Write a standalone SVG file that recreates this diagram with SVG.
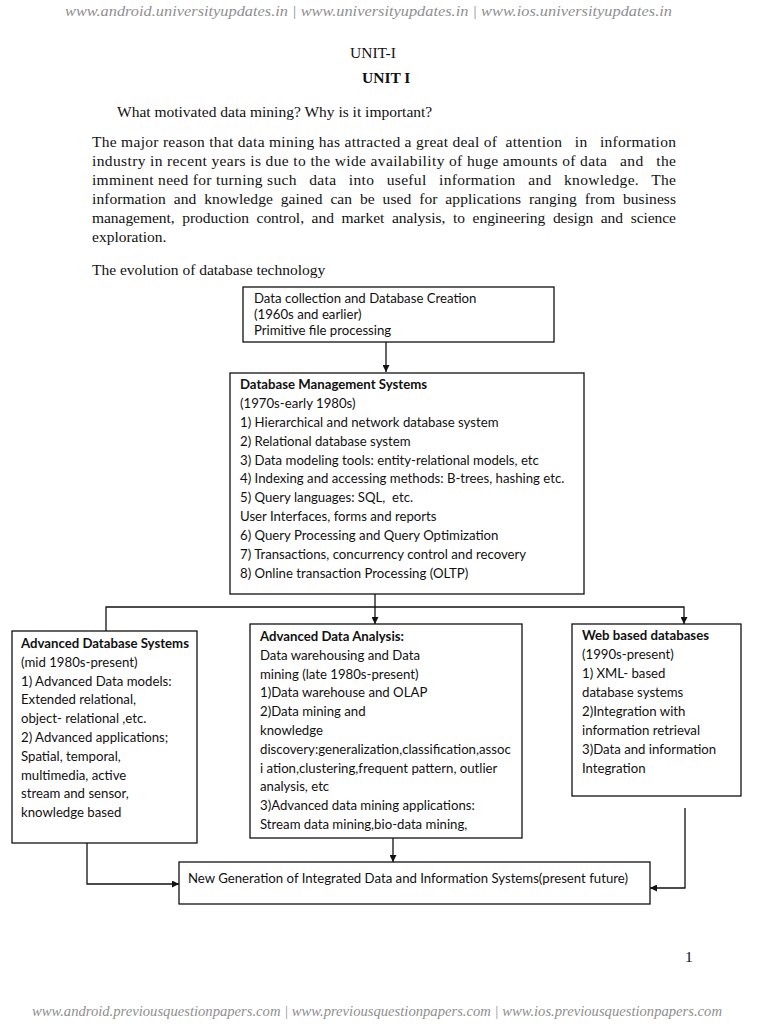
<svg xmlns="http://www.w3.org/2000/svg" width="768" height="1024" viewBox="0 0 768 1024">
<style>
.hdr{font-family:"Liberation Serif",serif;font-style:italic;font-size:14px;fill:#8f8f8f}
.ser{font-family:"Liberation Serif",serif;font-size:15.5px;fill:#111}
.pre{white-space:pre}
.box{fill:#fff;stroke:#111;stroke-width:1.3}
.t{font-family:Lato,"Open Sans",sans-serif;font-size:13.2px;fill:#111}
.b{font-weight:bold}
.con{fill:none;stroke:#111;stroke-width:1.3}
</style>
<defs>
<marker id="ah" viewBox="0 0 10 10" refX="10" refY="5" markerWidth="7" markerHeight="7" markerUnits="userSpaceOnUse" orient="auto">
<path d="M0,0 L10,5 L0,10 z" fill="#111"/>
</marker>
</defs>
<rect width="768" height="1024" fill="#fff"/>

<text class="hdr" x="65" y="16" textLength="607" lengthAdjust="spacingAndGlyphs">www.android.universityupdates.in | www.universityupdates.in | www.ios.universityupdates.in</text>
<text class="hdr" x="32" y="1016" textLength="690" lengthAdjust="spacingAndGlyphs">www.android.previousquestionpapers.com | www.previousquestionpapers.com | www.ios.previousquestionpapers.com</text>

<text class="ser" x="350" y="58">UNIT-I</text>
<text class="ser b" x="362" y="83">UNIT I</text>
<text class="ser" x="117" y="117">What motivated data mining? Why is it important?</text>
<text class="ser pre" x="92" y="147" textLength="584">The major reason that data mining has attracted a great deal of  attention   in   information</text>
<text class="ser pre" x="92" y="166" textLength="584">industry in recent years is due to the wide availability of huge amounts of data   and   the</text>
<text class="ser pre" x="92" y="185" textLength="584">imminent need for turning such   data   into   useful   information   and   knowledge.   The</text>
<text class="ser pre" x="92" y="204" textLength="584">information  and  knowledge  gained  can  be  used  for  applications  ranging  from  business</text>
<text class="ser pre" x="92" y="223" textLength="584">management,  production  control,  and  market  analysis,  to  engineering  design  and  science</text>
<text class="ser" x="92" y="242">exploration.</text>
<text class="ser" x="92" y="275">The evolution of database technology</text>
<text class="ser" x="685" y="962">1</text>

<g id="connectors">
<line class="con" x1="386" y1="342" x2="386" y2="372" marker-end="url(#ah)"/>
<line class="con" x1="375" y1="594" x2="375" y2="624" marker-end="url(#ah)"/>
<polyline class="con" points="106,631 106,607 684,607 684,624" marker-end="url(#ah)"/>
<polyline class="con" points="87,843 87,884 179,884" marker-end="url(#ah)"/>
<line class="con" x1="393" y1="838" x2="393" y2="862" marker-end="url(#ah)"/>
<polyline class="con" points="685,808 685,888 650,888" marker-end="url(#ah)"/>
</g>

<g id="node-collection">
<rect class="box" x="243" y="287" width="311" height="55"/>
<text class="t" x="254" y="303">Data collection and Database Creation</text>
<text class="t" x="254" y="319">(1960s and earlier)</text>
<text class="t" x="254" y="335">Primitive file processing</text>
</g>

<g id="node-dbms">
<rect class="box" x="230" y="373" width="354" height="221"/>
<text class="t b" x="240" y="389">Database Management Systems</text>
<text class="t" x="240" y="408">(1970s-early 1980s)</text>
<text class="t" x="240" y="427">1) Hierarchical and network database system</text>
<text class="t" x="240" y="446">2) Relational database system</text>
<text class="t" x="240" y="465">3) Data modeling tools: entity-relational models, etc</text>
<text class="t" x="240" y="483">4) Indexing and accessing methods: B-trees, hashing etc.</text>
<text class="t pre" x="240" y="502">5) Query languages: SQL,  etc.</text>
<text class="t" x="240" y="521">User Interfaces, forms and reports</text>
<text class="t" x="240" y="540">6) Query Processing and Query Optimization</text>
<text class="t" x="240" y="559">7) Transactions, concurrency control and recovery</text>
<text class="t" x="240" y="578">8) Online transaction Processing (OLTP)</text>
</g>

<g id="node-advdb">
<rect class="box" x="12" y="631" width="185" height="212"/>
<text class="t b" x="21" y="648">Advanced Database Systems</text>
<text class="t" x="21" y="667">(mid 1980s-present)</text>
<text class="t" x="21" y="686">1) Advanced Data models:</text>
<text class="t" x="21" y="704">Extended relational,</text>
<text class="t" x="21" y="723">object- relational ,etc.</text>
<text class="t" x="21" y="742">2) Advanced applications;</text>
<text class="t" x="21" y="761">Spatial, temporal,</text>
<text class="t" x="21" y="780">multimedia, active</text>
<text class="t" x="21" y="798">stream and sensor,</text>
<text class="t" x="21" y="817">knowledge based</text>
</g>

<g id="node-analysis">
<rect class="box" x="250" y="624" width="272" height="214"/>
<text class="t b" x="260" y="641">Advanced Data Analysis:</text>
<text class="t" x="260" y="660">Data warehousing and Data</text>
<text class="t" x="260" y="679">mining (late 1980s-present)</text>
<text class="t" x="260" y="697">1)Data warehouse and OLAP</text>
<text class="t" x="260" y="716">2)Data mining and</text>
<text class="t" x="260" y="735">knowledge</text>
<text class="t" x="260" y="754">discovery:generalization,classification,assoc</text>
<text class="t" x="260" y="773">i ation,clustering,frequent pattern, outlier</text>
<text class="t" x="260" y="791">analysis, etc</text>
<text class="t" x="260" y="810">3)Advanced data mining applications:</text>
<text class="t" x="260" y="829">Stream data mining,bio-data mining,</text>
</g>

<g id="node-web">
<rect class="box" x="572" y="624" width="169" height="172"/>
<text class="t b" x="582" y="640">Web based databases</text>
<text class="t" x="582" y="659">(1990s-present)</text>
<text class="t" x="582" y="678">1) XML- based</text>
<text class="t" x="582" y="697">database systems</text>
<text class="t" x="582" y="716">2)Integration with</text>
<text class="t" x="582" y="735">information retrieval</text>
<text class="t" x="582" y="754">3)Data and information</text>
<text class="t" x="582" y="773">Integration</text>
</g>

<g id="node-newgen">
<rect class="box" x="179" y="862" width="471" height="42"/>
<text class="t" x="188" y="883">New Generation of Integrated Data and Information Systems(present future)</text>
</g>
</svg>
